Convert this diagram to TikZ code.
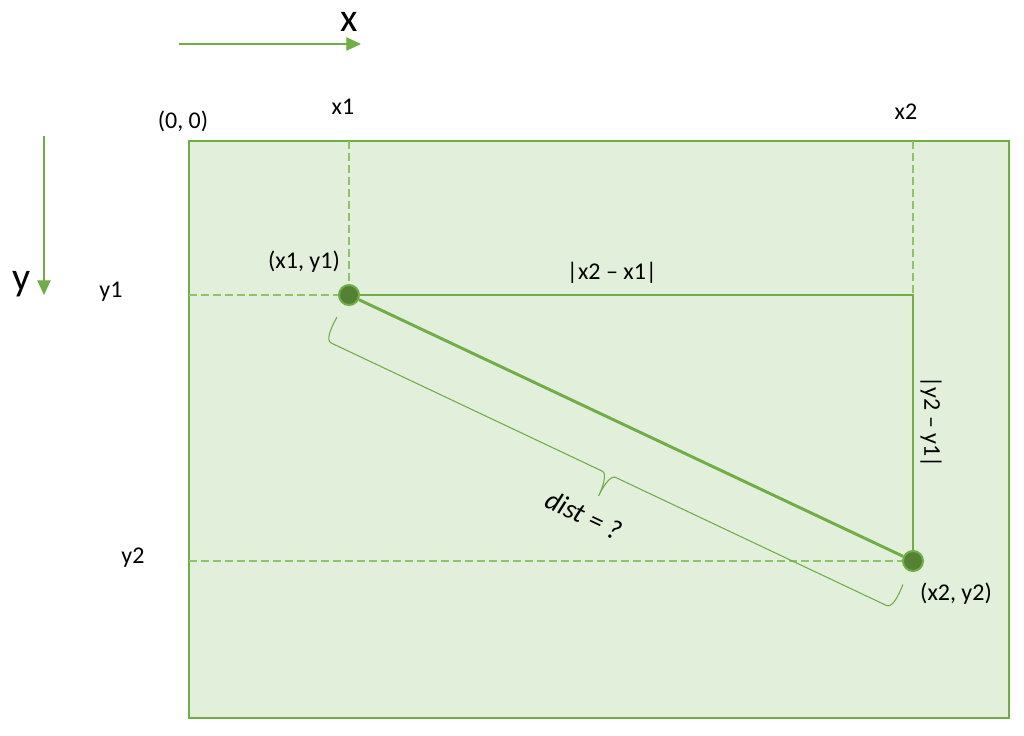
\documentclass[tikz,border=0pt]{standalone}
\usepackage{fontspec}
\setmainfont{Carlito}
\usetikzlibrary{arrows.meta}
\definecolor{leaf}{HTML}{70AD47}
\definecolor{moss}{HTML}{548235}
\definecolor{pale}{HTML}{E2EFDA}
\definecolor{sprout}{HTML}{8CC46A}

\begin{document}
\begin{tikzpicture}[x=0.75pt, y=-0.75pt,
		pt/.style={circle, draw=leaf, line width=1.5pt, fill=moss, minimum size=15pt, inner sep=0pt},
		guide/.style={sprout, line width=0.9pt, dash pattern=on 6pt off 3pt},
		side/.style={leaf, line width=1.6pt},
		t/.style={font=\fontsize{18}{20}\selectfont, anchor=base, inner sep=0pt},
		big/.style={font=\fontsize{30}{32}\selectfont, anchor=base, inner sep=0pt},
		axis/.style={leaf, line width=0.9pt, -{Triangle[length=11pt, width=10pt]}}]
		\useasboundingbox (0,0) rectangle (1024,735);

		% screen frame
		\draw[leaf, line width=1.6pt, fill=pale] (189,141) rectangle (1009,718);
		\coordinate (O) at (189,141);

		% axes
		\coordinate (xs) at (179,44);
		\coordinate (xe) at (361,44);
		\coordinate (ys) at (44,136);
		\coordinate (ye) at (44,295);
		\draw[axis] (xs) -- (xe);
		\draw[axis] (ys) -- (ye);
		\node[big] (X) at (349,32) {x};
		\node[big] (Y) at (22,290) {y};

		% points
		\node[pt] (P1) at (349,295) {};
		\node[pt] (P2) at (913,561) {};
		\coordinate (C) at (P2 |- P1);

		\draw[guide] (P1 |- O) -- (P1);
		\draw[guide] (O |- P1) -- (P1);
		\draw[guide] (P2 |- O) -- (C);
		\draw[guide] (O |- P2) -- (P2);

		\draw[side] (P1) -- (C) -- (P2);
		\draw[leaf, line width=2.2pt] (P1) -- (P2);

		% brace under the distance
		\begin{scope}[shift={(337,317)}, rotate=-25.3]
			\draw[leaf, line width=0.8pt] (0,0) .. controls (-1,14) and (0,26) .. (6,26) -- (306,26)
				.. controls (311,27) and (313,38) .. (313,50) .. controls (313,38) and (315,27) .. (320,26)
				-- (620,26) .. controls (626,26) and (627,14) .. (626,0);
		\end{scope}

		% labels
		\node[t] (L00) at (183,128) {(0, 0)};
		\node[t] (Lx1) at (343,114) {x1};
		\node[t] (Lx2) at (906,119) {x2};
		\node[t] (Ly1) at (111,297) {y1};
		\node[t] (Ly2) at (133,563) {y2};
		\node[t] (LP1) at (304,268) {(x1, y1)};
		\node[t] (LP2) at (956,600) {(x2, y2)};
		\node[t] (Ldx) at (612,279) {|x2 – x1|};
		\node[t, anchor=center, rotate=-90] (Ldy) at (931,422) {|y2 – y1|};
		\node[t, anchor=center, rotate=-25.3, font=\fontsize{21}{24}\selectfont\itshape] (Ld) at (584,515) {dist = ?};
	\end{tikzpicture}
\end{document}
